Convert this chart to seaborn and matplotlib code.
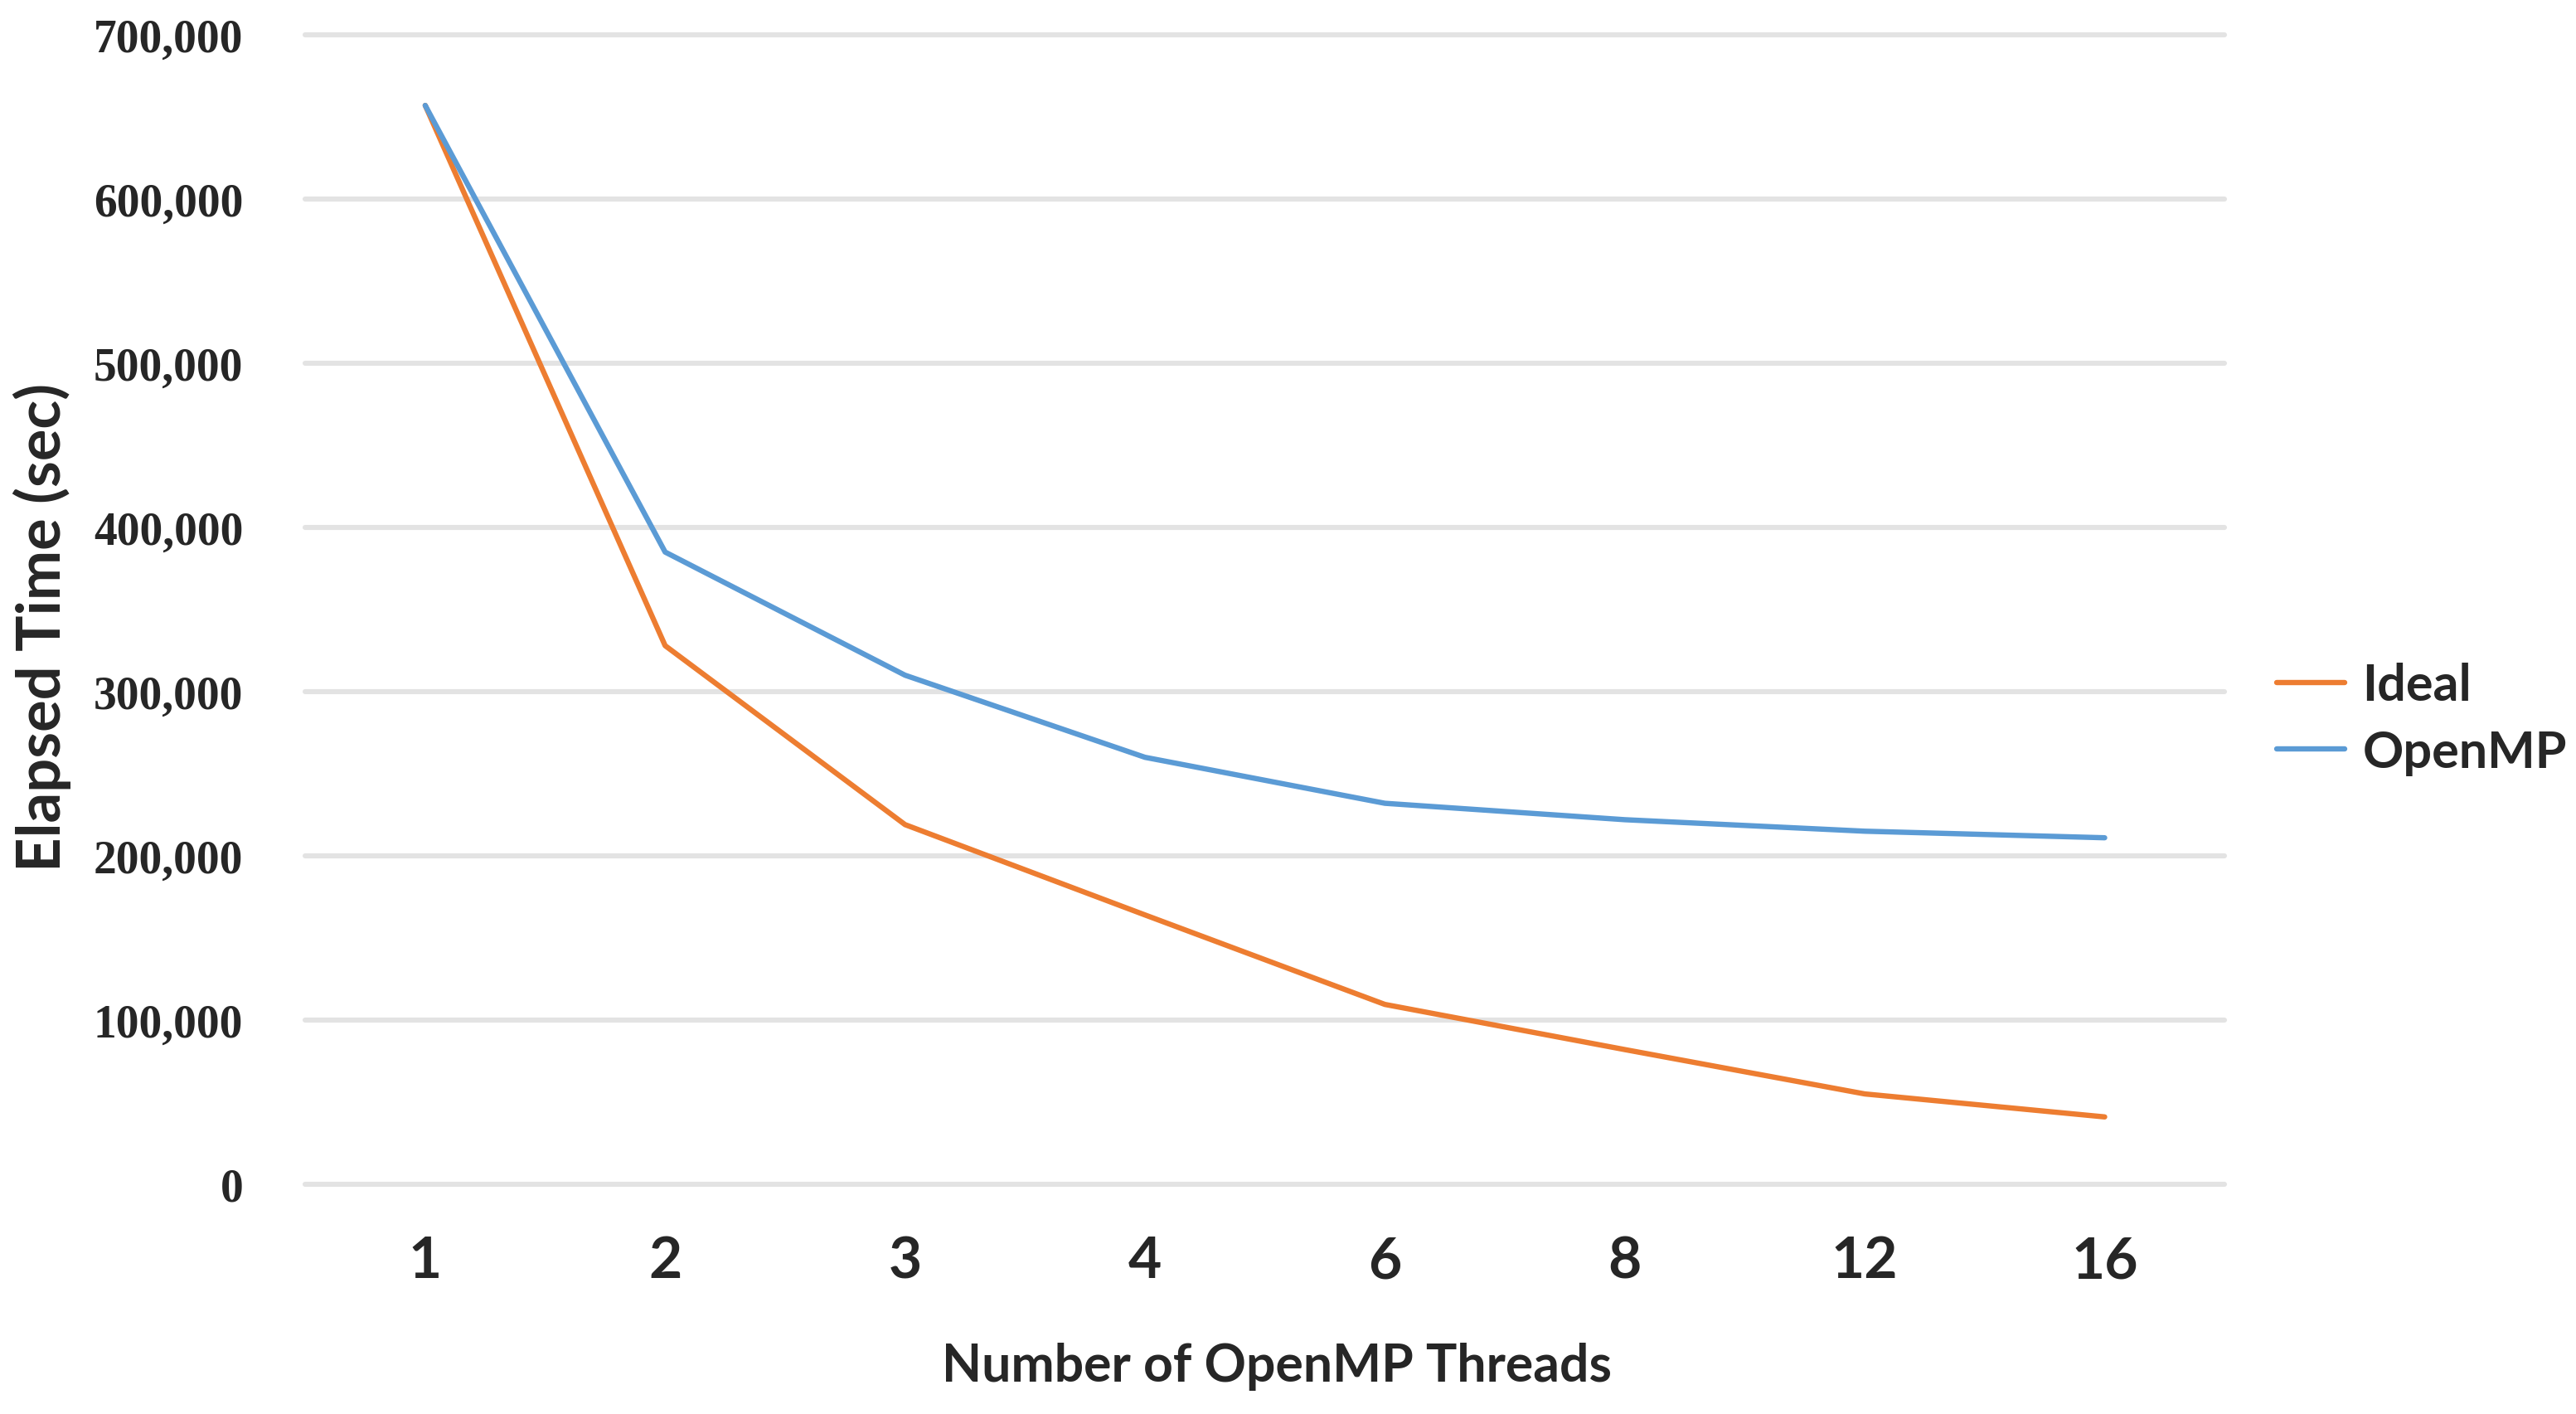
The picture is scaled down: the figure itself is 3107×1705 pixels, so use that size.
import numpy as np
import pandas as pd
import matplotlib.pyplot as plt
import seaborn as sns

# values
threads = ["1", "2", "3", "4", "6", "8", "12", "16"]
ideal = [657000, 328000, 219000, 164000, 109500, 82000, 55000, 41000]
openmp = [657000, 385000, 310000, 260000, 232000, 222000, 215000, 211000]
series_names = ["Ideal", "OpenMP"]
y_ticks = [0, 100000, 200000, 300000, 400000, 500000, 600000, 700000]

df = pd.DataFrame({
    "threads": threads * 2,
    "time": ideal + openmp,
    "series": [series_names[0]] * len(threads) + [series_names[1]] * len(threads),
})

sns.set_theme(style="white")
plt.rcParams['font.family'] = ['Lato', 'DejaVu Sans']

fig = plt.figure(figsize=(15.535, 8.53), dpi=200)
ax = fig.add_axes([0.1185, 0.1624, 0.7451, 0.8124])

sns.lineplot(data=df, x="threads", y="time", hue="series", sort=False,
             palette={"Ideal": "#ED7D31", "OpenMP": "#5B9BD5"},
             linewidth=2.3, ax=ax)

ax.set_xlim(-0.5, len(threads) - 0.5)
ax.set_ylim(0, 700000)
ax.set_yticks(y_ticks)
ax.set_yticklabels([f"{v:,}" for v in y_ticks], fontfamily="Liberation Serif",
                   fontsize=20, fontweight="bold")
for lab in ax.get_xticklabels():
    lab.set_fontsize(25)
    lab.set_fontweight("bold")
ax.tick_params(axis="y", length=0, pad=27)
ax.tick_params(axis="x", length=0, pad=22)

ax.grid(axis="y", color="#e3e3e3", linewidth=2.2)
ax.grid(axis="x", visible=False)
for gl in ax.get_ygridlines():
    gl.set_clip_on(False)
for s in ax.spines.values():
    s.set_visible(False)

ax.set_xlabel("Number of OpenMP Threads", fontsize=22.5, fontweight="bold")
ax.set_ylabel("Elapsed Time (sec)", fontsize=26, fontweight="bold")
ax.xaxis.set_label_coords(0.506, -0.137)
ax.yaxis.set_label_coords(-0.122, 0.485)

ax.legend(title=None, frameon=False, loc="center left",
          bbox_to_anchor=(1.027, 0.405), borderaxespad=0, borderpad=0,
          handlelength=1.35, handletextpad=0.35, labelspacing=0.4,
          prop={"family": ["Lato", "DejaVu Sans"], "weight": "bold", "size": 22})

fig.savefig("out.png", dpi=200)
